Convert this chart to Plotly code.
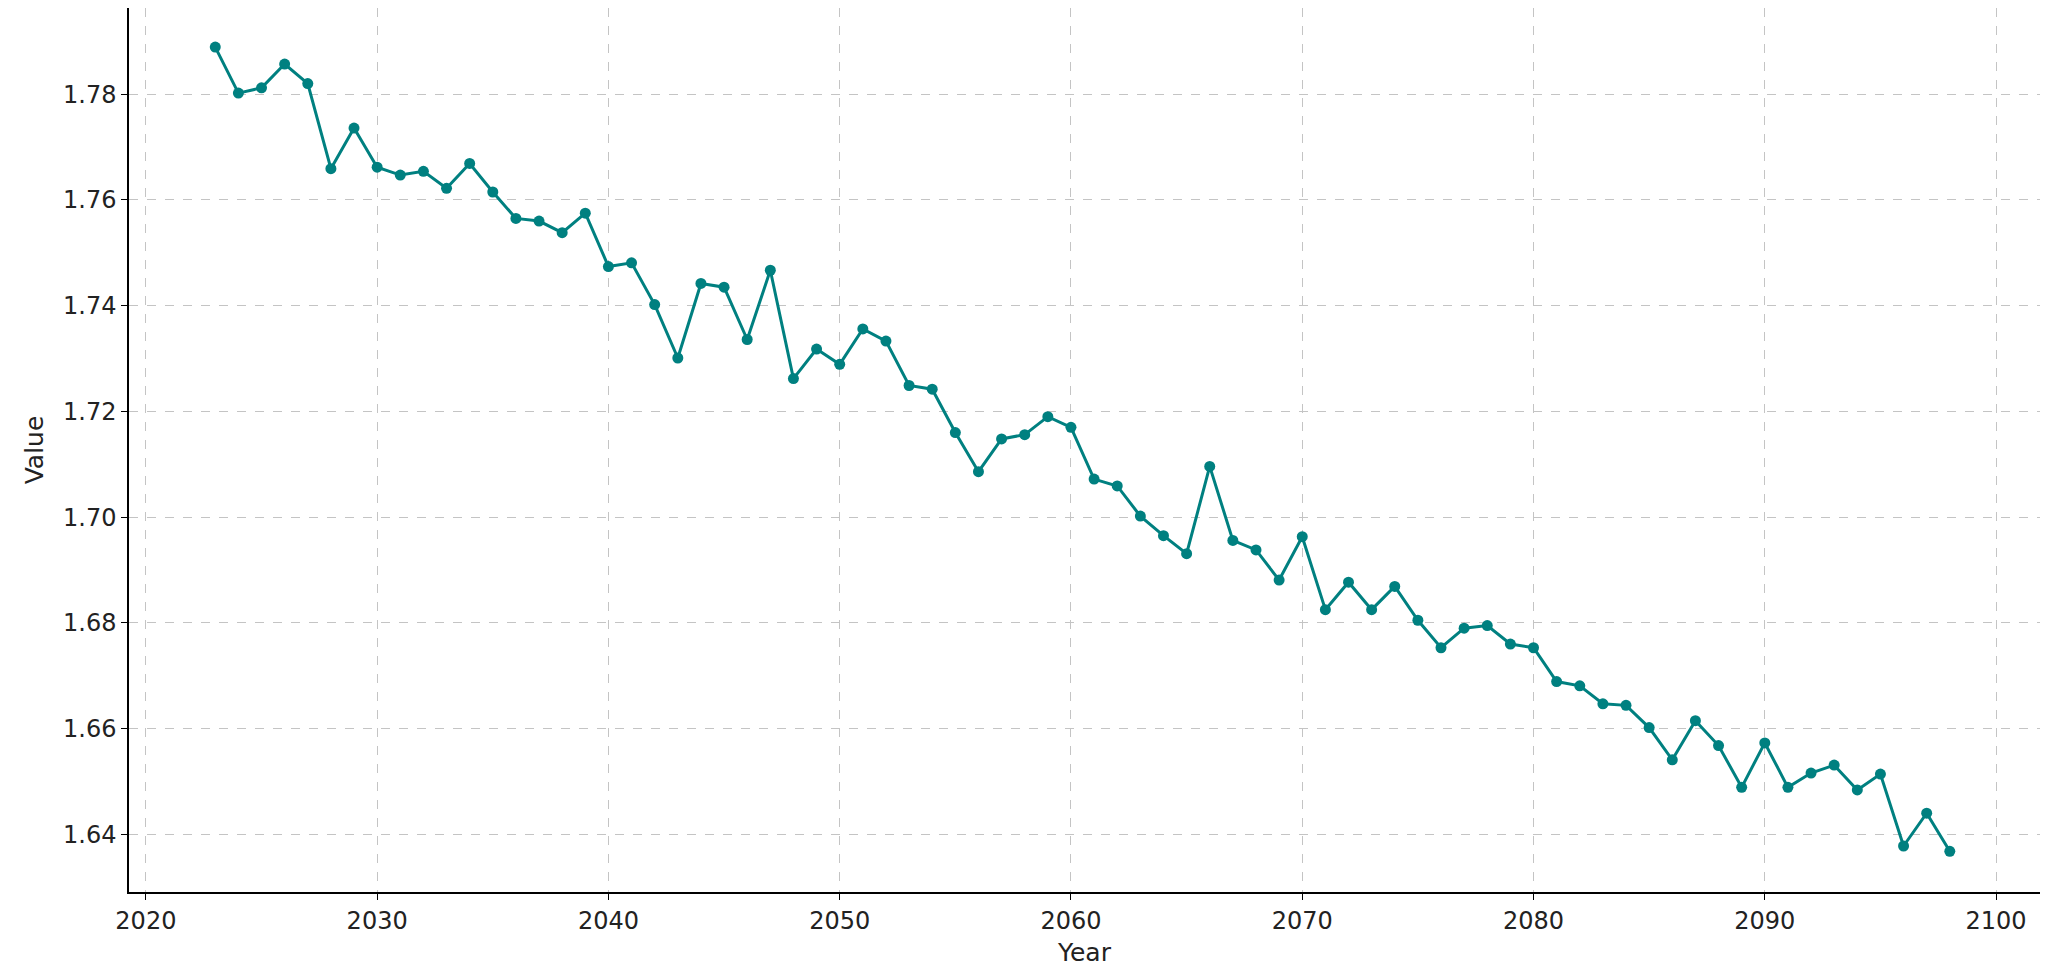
import plotly.graph_objects as go

years = list(range(2023, 2099))
values = [
    1.7889, 1.7802, 1.7812, 1.7857, 1.7820, 1.7659, 1.7736, 1.7662, 1.7647, 1.7654,
    1.7622, 1.7669, 1.7615, 1.7565, 1.7560, 1.7538, 1.7575, 1.7474, 1.7481, 1.7402,
    1.7301, 1.7442, 1.7435, 1.7336, 1.7467, 1.7262, 1.7318, 1.7289, 1.7356, 1.7333,
    1.7249, 1.7242, 1.7160, 1.7086, 1.7148, 1.7156, 1.7190, 1.7170, 1.7072, 1.7059,
    1.7002, 1.6965, 1.6931, 1.7096, 1.6956, 1.6938, 1.6881, 1.6963, 1.6825, 1.6877,
    1.6825, 1.6869, 1.6805, 1.6753, 1.6790, 1.6795, 1.6760, 1.6753, 1.6689, 1.6681,
    1.6647, 1.6644, 1.6602, 1.6541, 1.6615, 1.6568, 1.6489, 1.6573, 1.6489, 1.6516,
    1.6531, 1.6484, 1.6514, 1.6378, 1.6440, 1.6368,
]

fig = go.Figure(go.Scatter(
    x=years, y=values, mode="lines+markers",
    line=dict(color="#008080", width=3),
    marker=dict(color="#008080", size=11),
))

axis_common = dict(
    showgrid=True, gridcolor="#c4c4c4", griddash="dash", gridwidth=1,
    showline=True, linecolor="black", linewidth=1.5,
    ticks="outside", tickcolor="black", ticklen=6,
    tickfont=dict(size=24, color="#222"), zeroline=False,
)

fig.update_layout(
    width=2048, height=973,
    plot_bgcolor="white", paper_bgcolor="white",
    font=dict(family="DejaVu Sans", color="#222"),
    margin=dict(l=121, r=16, t=0, b=89, autoexpand=False),
    showlegend=False,
    xaxis=dict(axis_common, range=[2019.27, 2101.9], dtick=10,
               title=dict(text="Year", font=dict(size=25), standoff=10)),
    yaxis=dict(axis_common, range=[1.6291, 1.7963], dtick=0.02, tickformat=".2f",
               title=dict(text="Value", font=dict(size=25), standoff=12)),
)

fig.write_html("out.html")
